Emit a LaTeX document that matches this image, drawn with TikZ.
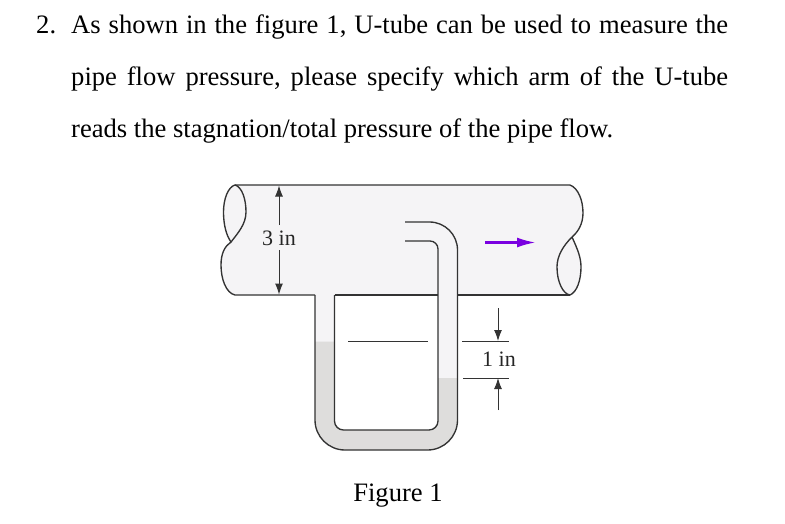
\documentclass[tikz,border=0pt]{standalone}
\usepackage{fontspec}
\setmainfont{Liberation Serif}
\usetikzlibrary{arrows.meta}
\definecolor{pipefill}{HTML}{F5F4F6}
\definecolor{liquid}{HTML}{DEDDDC}
\definecolor{wall}{HTML}{333333}
\definecolor{flow}{HTML}{7A00E0}
\tikzset{
  wallline/.style={draw=wall,line width=1.35pt},
  thinline/.style={draw=wall,line width=0.85pt},
  para/.style={inner sep=0pt,anchor=base west,font=\fontsize{26.6}{30}\selectfont},
  dimtext/.style={inner sep=0pt,anchor=base,font=\fontsize{22}{26}\selectfont,text=black!85},
  dimarrow/.style={draw=wall,line width=1pt,-{Latex[length=11pt,width=8pt]}},
}
\begin{document}
\begin{tikzpicture}[x=1pt,y=-1pt]
\useasboundingbox (0,0) rectangle (785,523);
\fill[white] (0,0) rectangle (785,523);
% pipe body
\path[fill=pipefill] (235,185) -- (570,185) .. controls (578,188) and (583,200) .. (583,213)
  .. controls (583,224) and (578,232) .. (572,237)
  .. controls (578,250) and (581,258) .. (581,267) .. controls (581,280) and (577,292) .. (570,295)
  -- (235,295) .. controls (226,293) and (221,279) .. (221,265) .. controls (221,253) and (225,246) .. (231,242)
  .. controls (226,235) and (223.5,224) .. (223.5,212) .. controls (223.5,199) and (228,187) .. (235,185) -- cycle;
% U-tube interior
\path[fill=pipefill] (315,294) -- (315,342) -- (334.5,342) -- (334.5,294) -- cycle;
\path[fill=pipefill] (438,240) -- (438,379) -- (457.5,379) -- (457.5,240) -- cycle;
\path[fill=liquid] (315,341.5) -- (315,420) arc[start angle=180,end angle=90,radius=30] -- (427.5,450)
  arc[start angle=90,end angle=0,radius=30] -- (457.5,378) -- (438,378) -- (438,421)
  arc[start angle=0,end angle=90,radius=9] -- (343.5,430) arc[start angle=90,end angle=180,radius=9] -- (334.5,341.5) -- cycle;
% pipe outline
\draw[wallline] (235,185) -- (570,185) .. controls (578,188) and (583,200) .. (583,213)
  .. controls (583,224) and (578,232) .. (572,237);
\draw[wallline] (572,237) .. controls (578,250) and (581,258) .. (581,267) .. controls (581,280) and (577,292) .. (570,295)
  .. controls (563,294) and (557,282) .. (557,267) .. controls (557,256) and (563,246) .. (572,237);
\draw[wallline] (235,185) .. controls (228,187) and (223.5,199) .. (223.5,212) .. controls (223.5,224) and (226,235) .. (231,242)
  .. controls (238,233) and (246,224) .. (246,212) .. controls (246,199) and (242,187) .. (235,185);
\draw[wallline] (231,242) .. controls (225,246) and (221,253) .. (221,265) .. controls (221,279) and (226,293) .. (235,295) -- (315,295);
\draw[wallline] (334.5,295) -- (438,295);
\draw[wallline] (457.5,295) -- (570,295);
% U-tube outline
\draw[wallline] (315,295) -- (315,420) arc[start angle=180,end angle=90,radius=30] -- (427.5,450)
  arc[start angle=90,end angle=0,radius=30] -- (457.5,250) arc[start angle=0,end angle=-90,radius=28] -- (405,222);
\draw[wallline] (334.5,295) -- (334.5,421) arc[start angle=180,end angle=90,radius=9] -- (429,430)
  arc[start angle=90,end angle=0,radius=9] -- (438,249) arc[start angle=0,end angle=-90,radius=8] -- (405,241);
% levels
\coordinate (levelL) at (348,341);
\coordinate (levelR) at (428,341);
\draw[thinline] (levelL) -- (levelR);
\coordinate (dimAa) at (462,341);
\coordinate (dimAb) at (509,341);
\coordinate (dimBa) at (463,378);
\coordinate (dimBb) at (509,378);
\draw[thinline] (dimAa) -- (dimAb);
\draw[thinline] (dimBa) -- (dimBb);
% one-inch dimension
\node[dimtext] (onein) at (499,366) {1 in};
\coordinate (oneTop) at (498,308);
\coordinate (oneTip) at (498,341);
\coordinate (oneBot) at (498,410);
\coordinate (oneTipB) at (498,378);
\draw[dimarrow] (oneTop) -- (oneTip);
\draw[dimarrow] (oneBot) -- (oneTipB);
% three-inch dimension
\node[dimtext] (threein) at (279,245) {3 in};
\coordinate (threeT) at (279,225);
\coordinate (threeTip) at (279,185.5);
\coordinate (threeB) at (279,250);
\coordinate (threeTipB) at (279,294.5);
\draw[dimarrow] (threeT) -- (threeTip);
\draw[dimarrow] (threeB) -- (threeTipB);
% flow arrow
\coordinate (flowA) at (485,242.5);
\coordinate (flowB) at (536,242.5);
\draw[draw=flow,line width=2.6pt,-{Latex[length=19pt,width=10pt]}] (flowA) -- (flowB);
% text
\node[para] (num) at (36,33) {2.};
\node[para] (l1) at (71,33) {\hbox to 657pt{As\hfill shown\hfill in\hfill the\hfill figure\hfill 1,\hfill U-tube\hfill can\hfill be\hfill used\hfill to\hfill measure\hfill the}};
\node[para] (l2) at (71,85) {\hbox to 657pt{pipe\hfill flow\hfill pressure,\hfill please\hfill specify\hfill which\hfill arm\hfill of\hfill the\hfill U-tube}};
\node[para] (l3) at (71,137) {reads the stagnation/total pressure of the pipe flow.};
\node[para,anchor=base] (cap) at (398,501) {Figure 1};
\end{tikzpicture}
\end{document}
